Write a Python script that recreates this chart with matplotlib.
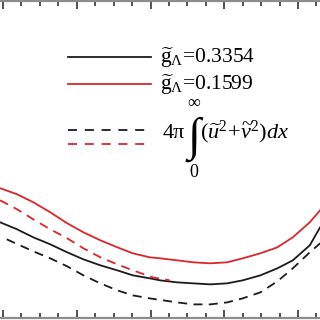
import matplotlib
matplotlib.use("Agg")
import matplotlib.pyplot as plt
from matplotlib.ticker import MultipleLocator
from matplotlib.lines import Line2D

plt.rcParams["font.family"] = ["Liberation Serif", "DejaVu Serif"]
plt.rcParams["mathtext.fontset"] = "custom"
plt.rcParams["mathtext.rm"] = "Liberation Serif"
plt.rcParams["mathtext.it"] = "Liberation Serif:italic"

RED = "#d9262b"
BLACK = "#1b1b1b"

# curves
x_grid = [0.96, 1.19, 1.41, 1.64, 1.87, 2.09, 2.32, 2.55, 2.76, 2.99, 3.13,
          3.36, 3.58, 3.81, 4.04, 4.25, 4.49, 4.72, 4.93, 5.16, 5.30]
g_red = [1.30, 1.24, 1.16, 1.06, 0.95, 0.86, 0.78, 0.71, 0.65, 0.61, 0.60,
         0.58, 0.56, 0.55, 0.56, 0.60, 0.65, 0.71, 0.81, 0.96, 1.08]
g_black = [0.96, 0.89, 0.81, 0.74, 0.66, 0.59, 0.53, 0.48, 0.43, 0.40, 0.38,
           0.36, 0.35, 0.34, 0.35, 0.38, 0.43, 0.50, 0.58, 0.73, 0.91]

x_red_int = [0.96, 1.19, 1.41, 1.64, 1.87, 2.09, 2.32, 2.55, 2.76, 3.03, 3.26]
i_red = [1.18, 1.09, 0.99, 0.89, 0.80, 0.70, 0.61, 0.54, 0.48, 0.41, 0.38]

x_black_int = [1.05, 1.41, 1.64, 1.87, 2.09, 2.32, 2.55, 2.76, 2.99, 3.36,
               3.58, 3.81, 4.04, 4.25, 4.49, 4.72, 4.93, 5.16, 5.30]
i_black = [0.79, 0.67, 0.60, 0.52, 0.43, 0.35, 0.28, 0.23, 0.20, 0.16,
           0.14, 0.14, 0.16, 0.20, 0.26, 0.37, 0.50, 0.66, 0.75]

labels = [r"$\widetilde{\mathrm{g}}_{\Lambda}$=0.3354", r"$\widetilde{\mathrm{g}}_{\Lambda}$=0.1599"]

fig = plt.figure(figsize=(3.2, 3.2), dpi=100)
ax = fig.add_axes([-0.02, 0.005, 1.04, 0.992])

lw = 1.3
ax.plot(x_grid, g_red, color=RED, lw=lw)
ax.plot(x_grid, g_black, color=BLACK, lw=lw)
ax.plot(x_red_int, i_red, color=RED, lw=lw, dashes=(5, 3.5))
ax.plot(x_black_int, i_black, color=BLACK, lw=lw, dashes=(5, 3.5))

ax.set_xlim(0.8725, 5.385)
ax.set_ylim(0, 3.17)
ax.xaxis.set_major_locator(MultipleLocator(1))
ax.xaxis.set_minor_locator(MultipleLocator(0.25))
ax.tick_params(axis="x", which="both", direction="in", top=True, bottom=True,
               labelbottom=False, labeltop=False, color="#222222", width=1.1)
ax.tick_params(axis="x", which="major", length=5.5)
ax.tick_params(axis="x", which="minor", length=3.5)
ax.set_yticks([])
ax.spines["left"].set_visible(False)
ax.spines["right"].set_visible(False)
for s in ("top", "bottom"):
    ax.spines[s].set_color("#8c8c8c")
    ax.spines[s].set_linewidth(1.6)

# hand-made legend, positions in figure fractions
tr = fig.transFigure
x0, x1 = 0.2125, 0.472
for yy, col, ls in [(0.822, BLACK, "-"), (0.737, RED, "-"),
                    (0.594, BLACK, "--"), (0.550, RED, "--")]:
    ln = Line2D([x0, x1], [yy, yy], transform=tr, color=col, lw=lw)
    if ls == "--":
        ln.set_dashes((5, 4.3))
    fig.add_artist(ln)

fs = 15.5
fig.text(0.5, 0.803, labels[0], fontsize=fs, va="baseline")
fig.text(0.5, 0.718, labels[1], fontsize=fs, va="baseline")
fig.text(0.508, 0.568, "4π", fontsize=16, va="baseline")
fig.text(0.605, 0.566, "∫", fontsize=34, va="center", ha="center")
fig.text(0.605, 0.675, "∞", fontsize=13, va="center", ha="center")
fig.text(0.605, 0.462, "0", fontsize=13, va="center", ha="center")
fig.text(0.625, 0.568, r"$(\widetilde{u}^2\!+\!\widetilde{v}^2)dx$", fontsize=16, va="baseline")

fig.savefig("out.png", dpi=100)
